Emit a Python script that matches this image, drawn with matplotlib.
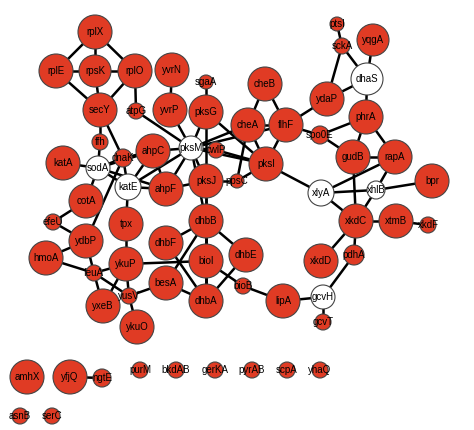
import matplotlib
matplotlib.use("Agg")
import matplotlib.pyplot as plt
from matplotlib.patches import Circle

names = ["rplX","rplE","rpsK","rplO","secY","atpG","yvrN","sgaA","yvrP","pksG","ffh","katA","sodA","dnaK",
         "ahpC","pksM","cwlP","katE","ahpF","pksJ","ppsC","cheA","flhF","cheB","pksI","ptsI","sckA","yqgA",
         "dhaS","ydaP","phrA","spo0E","gudB","rapA","bpr","xlyA","xhlB","xkdC","xtmB","xkdF","xkdD","pdhA",
         "gcvH","gcvT","lipA","bioB","dhbE","cotA","efeU","ydbP","hmoA","tpx","dhbB","dhbF","bioI","feuA",
         "ykuP","yusV","yxeB","besA","ykuO","dhbA","amhX","yfjQ","ngtE","purM","bkdAB","gerKA","pyrAB",
         "scpA","yhaQ","asnB","serC"]
xs = [95,56,95,135,100,136,172,206,170,206,100,63,98,123,153,191,216,128,166,206,237,248,286,265,266,337,342,373,
      367,327,366,320,353,395,432,321,376,356,396,428,321,354,323,323,283,243,246,86,53,86,46,126,206,166,206,94,
      126,129,103,166,137,206,27,70,102,140,176,215,252,287,320,20,52]
ys = [32,71,71,71,110,111,70,82,110,112,142,163,168,158,151,148,150,187,189,181,181,125,125,84,164,24,46,40,
      79,99,117,135,157,157,181,193,190,221,221,225,261,255,297,322,301,286,255,201,222,241,258,224,221,243,261,273,
      264,296,306,283,327,301,377,377,378,370,370,370,370,370,370,416,416]
sizes = [17,17,16,17,17,8,17,7,17,17,8,17,12,9,17,12,8,13,17,17,7,17,17,17,17,7,8,16,
         16,17,17,9,17,17,17,13,9,17,17,8,17,10,12,8,17,8,17,17,8,17,17,17,17,17,17,8,
         17,8,17,17,17,17,17,17,9,8,8,8,8,8,8,8,8]
white = ["sodA","pksM","katE","dhaS","xlyA","xhlB","gcvH"]
edges = [("rplX","rplE"),("rplX","rpsK"),("rplX","rplO"),("rplE","rpsK"),("rpsK","rplO"),("rplE","secY"),
         ("rpsK","secY"),("rplO","secY"),("rplO","atpG"),("secY","ffh"),("secY","dnaK"),("ffh","sodA"),
         ("yvrN","yvrP"),("sgaA","pksG"),("atpG","pksM"),("yvrP","pksM"),("pksG","pksM"),("katA","sodA"),
         ("sodA","dnaK"),("sodA","katE"),("sodA","ahpC"),("sodA","ahpF"),("dnaK","ahpC"),("dnaK","katE"),
         ("katE","ahpC"),("katE","ahpF"),("katE","pksM"),("ahpC","pksM"),("ahpF","pksM"),("pksM","cwlP"),
         ("pksM","pksJ"),("pksM","cheA"),("pksM","pksI"),("pksM","flhF"),("pksM","dhbB"),("pksG","pksJ"),
         ("pksG","pksI"),("cheA","cheB"),("cheA","flhF"),("cheB","flhF"),("cheA","pksI"),("flhF","pksI"),
         ("flhF","ydaP"),("ydaP","sckA"),("sckA","ptsI"),("sckA","dhaS"),("yqgA","dhaS"),("ydaP","dhaS"),
         ("dhaS","phrA"),("phrA","spo0E"),("phrA","gudB"),("phrA","rapA"),("spo0E","flhF"),("spo0E","gudB"),
         ("gudB","rapA"),("rapA","xlyA"),("rapA","xhlB"),("xhlB","bpr"),("xlyA","xhlB"),("xlyA","pksI"),
         ("xlyA","xkdC"),("gudB","xkdC"),("xkdC","xtmB"),("xtmB","xkdF"),("xkdC","xkdD"),("xkdC","pdhA"),
         ("xhlB","xkdC"),("pdhA","gcvH"),("gcvH","gcvT"),("gcvH","lipA"),("lipA","bioB"),("bioB","bioI"),
         ("dhbE","dhbB"),("dhbB","pksJ"),("dhbB","bioI"),("dhbB","dhbF"),("dhbB","dhbA"),("bioI","ykuP"),
         ("bioI","dhbA"),("dhbA","besA"),("dhbA","dhbE"),("ykuP","tpx"),("tpx","katE"),("ykuP","feuA"),
         ("ykuP","yusV"),("ykuP","yxeB"),("yusV","besA"),("yusV","ykuO"),("yusV","feuA"),("yxeB","feuA"),
         ("feuA","ydbP"),("ydbP","efeU"),("ydbP","hmoA"),("hmoA","feuA"),("cotA","efeU"),("cotA","sodA"),
         ("ydbP","dnaK"),("pksJ","ahpF"),("pksJ","ppsC"),("ppsC","pksI"),("pksI","cwlP"),("ahpC","ahpF"),
         ("besA","dhbB"),("dhbF","dhbA"),("yfjQ","ngtE"),("ppsC","cheA"),("pksJ","dhbA")]

fig = plt.figure(figsize=(4.74, 4.30), dpi=100)
ax = fig.add_axes([0, 0, 1, 1])
ax.set_xlim(0, 474)
ax.set_ylim(430, 0)
ax.set_aspect("equal")
ax.axis("off")
pos = {n: (x, y) for n, x, y in zip(names, xs, ys)}
for a, b in edges:
    ax.plot([pos[a][0], pos[b][0]], [pos[a][1], pos[b][1]], color="black", lw=1.8, zorder=1)
for n, x, y, r in zip(names, xs, ys, sizes):
    fc = "white" if n in white else "#e03b24"
    ax.add_patch(Circle((x, y), r, facecolor=fc, edgecolor="#444444", lw=0.8, zorder=2))
    ax.text(x, y, n, ha="center", va="center", fontsize=7, color="black", zorder=3,
            family="Liberation Sans")
fig.savefig("out.png", dpi=100)
